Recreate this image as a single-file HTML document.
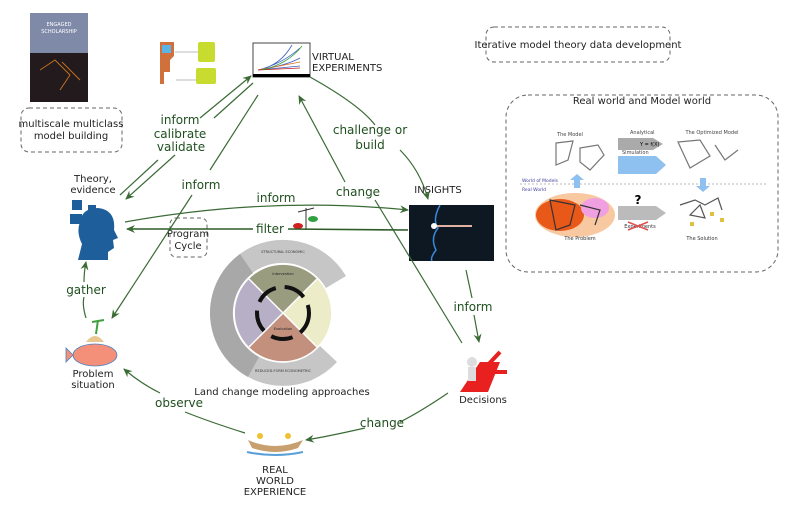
<!DOCTYPE html>
<html><head><meta charset="utf-8"><style>
html,body{margin:0;padding:0;background:#fff;}
svg{display:block;font-family:"DejaVu Sans","Liberation Sans",sans-serif;}
.l{fill:#1f4f1f;font-size:12px;text-anchor:middle;}
.t{fill:#222;font-size:10px;text-anchor:middle;}
.c{fill:none;stroke:#3a6b35;stroke-width:1.2;}
</style></head><body>
<svg width="800" height="513" viewBox="0 0 800 513" xmlns="http://www.w3.org/2000/svg">
<defs>
<marker id="a" markerWidth="10" markerHeight="10" refX="8" refY="5" orient="auto" markerUnits="userSpaceOnUse">
<path d="M0,1 L9,5 L0,9 L3,5 Z" fill="#3a6b35"/></marker>
</defs>
<rect width="800" height="513" fill="#fff"/>

<!-- book -->
<rect x="30" y="13" width="58" height="40" fill="#7f8aa8"/>
<rect x="30" y="53" width="58" height="49" fill="#231a1e"/>
<path d="M40,70 L55,60 L70,75 L60,90 M62,62 L80,80" stroke="#c07020" stroke-width="1" fill="none"/>
<text x="59" y="26" font-size="5" fill="#fff" text-anchor="middle">ENGAGED</text>
<text x="59" y="33" font-size="5" fill="#fff" text-anchor="middle">SCHOLARSHIP</text>
<rect x="21" y="108" width="101" height="44" rx="8" fill="none" stroke="#666" stroke-dasharray="4,3"/>
<text class="t" x="71" y="127" font-size="9">multiscale multiclass</text>
<text class="t" x="71" y="139" font-size="9">model building</text>

<!-- face/head icon -->
<path d="M160,42 h14 v14 l-4,4 v12 h-6 v12 h-4 z" fill="#d0703a"/>
<rect x="162" y="45" width="9" height="8" fill="#5ab4e8"/>
<rect x="198" y="42" width="17" height="20" rx="2" fill="#c8dc30"/>
<rect x="196" y="68" width="20" height="16" rx="2" fill="#c8dc30"/>
<line x1="175" y1="52" x2="198" y2="52" stroke="#bbb"/>
<line x1="176" y1="80" x2="196" y2="80" stroke="#bbb"/>

<!-- virtual experiments chart -->
<rect x="253" y="43" width="57" height="34" fill="#fff" stroke="#444"/>
<rect x="253" y="74" width="57" height="3" fill="#000"/>
<path d="M258,70 Q280,66 292,45 M258,70 Q282,64 300,48 M258,70 Q285,66 300,58 M258,70 L300,66" fill="none" stroke="#4060c0" stroke-width="0.8"/>
<path d="M258,70 Q285,65 300,62" fill="none" stroke="#e07020" stroke-width="0.8"/>
<path d="M258,70 L300,68" fill="none" stroke="#c02020" stroke-width="0.8"/>
<path d="M262,70 Q288,64 302,46" fill="none" stroke="#30a040" stroke-width="0.8"/>
<text x="312" y="60" font-size="10" fill="#222">VIRTUAL</text>
<text x="312" y="71" font-size="10" fill="#222">EXPERIMENTS</text>

<!-- iterative box -->
<rect x="486" y="27" width="184" height="35" rx="8" fill="none" stroke="#666" stroke-dasharray="4,3"/>
<text class="t" x="578" y="48" font-size="9">Iterative model theory data development</text>

<!-- real world box -->
<rect x="506" y="95" width="272" height="177" rx="22" fill="none" stroke="#666" stroke-dasharray="4,3"/>
<text class="t" x="642" y="104" font-size="9">Real world and Model world</text>
<text x="570" y="136" font-size="5" fill="#444" text-anchor="middle">The Model</text>
<path d="M556,143 L573,141 L568,160 L556,165 Z M580,148 L598,145 L604,155 L590,170 L580,162 Z" fill="none" stroke="#777" stroke-width="1.2"/>
<text x="630" y="134" font-size="5" fill="#444">Analytical</text>
<path d="M618,138 h35 l10,6 l-10,6 h-35 z" fill="#aaa"/>
<text x="640" y="146" font-size="5">Y = f(X)</text>
<text x="622" y="154" font-size="5" fill="#444">Simulation</text>
<path d="M618,156 h38 l10,9 l-10,9 h-38 z" fill="#8ec0f0"/>
<text x="712" y="134" font-size="5" fill="#444" text-anchor="middle">The Optimized Model</text>
<path d="M678,142 L700,140 L710,156 L690,168 Z M715,145 L725,160 L738,150" fill="none" stroke="#777" stroke-width="1.2"/>
<line x1="520" y1="184" x2="766" y2="184" stroke="#777" stroke-dasharray="2,2" stroke-width="0.6"/>
<text x="522" y="182" font-size="4.5" fill="#4040a0">World of Models</text>
<text x="522" y="191" font-size="4.5" fill="#4040a0">Real World</text>
<path d="M574,188 h6 v-8 h4 l-7,-6 l-7,6 h4 z" fill="#8ec0f0"/>
<path d="M700,178 h6 v8 h4 l-7,6 l-7,-6 h4 z" fill="#8ec0f0"/>
<ellipse cx="575" cy="215" rx="40" ry="22" fill="#f8c8a0"/>
<ellipse cx="560" cy="215" rx="24" ry="16" fill="#e85818"/>
<ellipse cx="595" cy="208" rx="14" ry="10" fill="#f0a0e0"/>
<path d="M550,200 L575,205 L570,225 L556,230 Z M580,205 L600,210 L595,225" fill="none" stroke="#333" stroke-width="1.2"/>
<text x="580" y="240" font-size="5" fill="#333" text-anchor="middle">The Problem</text>
<text x="638" y="204" font-size="12" font-weight="bold" text-anchor="middle">?</text>
<path d="M618,206 h38 l10,7 l-10,7 h-38 z" fill="#bbb"/>
<text x="640" y="228" font-size="5" fill="#333" text-anchor="middle">Experiments</text>
<path d="M628,222 L648,230 M628,230 L648,222" stroke="#e05050" stroke-width="1.5"/>
<path d="M680,205 L695,200 L705,205 L718,198 L722,210 M690,215 L700,205 L705,218 Z" fill="none" stroke="#555" stroke-width="1.2"/>
<rect x="710" y="212" width="4" height="4" fill="#e0c040"/><rect x="720" y="218" width="4" height="4" fill="#e0c040"/><rect x="690" y="222" width="4" height="4" fill="#e0c040"/>
<text x="702" y="240" font-size="5" fill="#333" text-anchor="middle">The Solution</text>

<!-- insights -->
<text x="438" y="193" font-size="10" fill="#222" text-anchor="middle">INSIGHTS</text>
<rect x="409" y="205" width="85" height="56" fill="#0e1822"/>
<path d="M440,205 Q432,220 438,228 Q430,238 436,250 Q430,258 432,261" fill="none" stroke="#3a88d8" stroke-width="1.5"/>
<line x1="434" y1="226" x2="472" y2="226" stroke="#e0b0a0" stroke-width="2"/>
<circle cx="434" cy="226" r="3" fill="#fff"/>

<!-- theory head -->
<text class="t" x="93" y="182">Theory,</text>
<text class="t" x="93" y="193">evidence</text>
<path d="M80,222 Q82,208 98,208 Q116,210 114,230 L118,238 L113,240 L114,248 L108,252 L108,260 L78,260 L82,244 Q76,232 80,222 Z" fill="#1e5e9a"/>
<path d="M72,200 h10 v10 h-10 z M70,214 h12 v10 h-12 z M88,205 h8 v8 h-8 z" fill="#1e5e9a"/>

<!-- program cycle -->
<rect x="170" y="218" width="37" height="39" rx="6" fill="none" stroke="#666" stroke-dasharray="4,3"/>
<text class="t" x="188" y="237" font-size="9">Program</text>
<text class="t" x="188" y="249" font-size="9">Cycle</text>

<!-- wheel -->
<path d="M337,362 A73,73 0 1 1 346,276 L326,288 A50,50 0 1 0 320,346 Z" fill="#c6c6c6"/>
<path d="M240,254 A73,73 0 0 0 248,377 L259,357 A50,50 0 0 1 253,273 Z" fill="#a8a8a8"/>
<path d="M283,313 L249,279 A48,48 0 0 1 317,279 Z" fill="#9a9c80"/>
<path d="M283,313 L317,279 A48,48 0 0 1 317,347 Z" fill="#edecc8"/>
<path d="M283,313 L317,347 A48,48 0 0 1 249,347 Z" fill="#c4907e"/>
<path d="M283,313 L249,347 A48,48 0 0 1 249,279 Z" fill="#b6afc6"/>
<path d="M249,279 L317,347 M317,279 L249,347" stroke="#fff" stroke-width="1.5"/>
<circle cx="283" cy="313" r="26" fill="none" stroke="#111" stroke-width="4" stroke-dasharray="22,9"/>
<text x="283" y="275" font-size="3.5" fill="#222" text-anchor="middle">Intervention</text>
<text x="283" y="330" font-size="3.5" fill="#222" text-anchor="middle">Evaluation</text>
<text x="283" y="253" font-size="3.5" fill="#333" text-anchor="middle">STRUCTURAL ECONOMIC</text>
<text x="283" y="372" font-size="3.5" fill="#333" text-anchor="middle">REDUCED-FORM ECONOMETRIC</text>
<text class="t" x="282" y="395" font-size="9.5">Land change modeling approaches</text>

<!-- filter scale -->
<line x1="306" y1="208" x2="306" y2="230" stroke="#333"/>
<line x1="298" y1="212" x2="314" y2="208" stroke="#333"/>
<ellipse cx="298" cy="226" rx="5" ry="3" fill="#d02020"/>
<ellipse cx="313" cy="219" rx="5" ry="3" fill="#30a040"/>

<!-- fish island -->
<ellipse cx="95" cy="355" rx="22" ry="11" fill="#f4907a" stroke="#4a80c0" stroke-width="0.8"/>
<path d="M73,355 L66,348 L66,362 Z" fill="#f4907a" stroke="#4a80c0" stroke-width="0.8"/>
<path d="M86,342 Q95,330 104,342 Z" fill="#e8c890"/>
<path d="M96,334 L98,320 M92,322 L104,320" stroke="#40a040" stroke-width="2"/>
<text class="t" x="93" y="377">Problem</text>
<text class="t" x="93" y="388">situation</text>

<!-- decisions -->
<path d="M460,392 L480,362 L500,362 L488,392 Z" fill="#e82020"/>
<path d="M485,368 L500,352 M490,372 L507,372" stroke="#e82020" stroke-width="4"/>
<circle cx="472" cy="362" r="5" fill="#ddd"/>
<rect x="468" y="367" width="8" height="14" fill="#ddd"/>
<text class="t" x="483" y="403">Decisions</text>

<!-- boat -->
<path d="M248,440 Q275,452 303,440 L298,448 Q275,456 252,448 Z" fill="#c8a070"/>
<path d="M247,452 Q275,458 303,452" stroke="#5aa0d8" stroke-width="2" fill="none"/>
<circle cx="260" cy="436" r="3" fill="#f0c030"/><circle cx="288" cy="436" r="3" fill="#f0c030"/>
<text class="t" x="275" y="473">REAL</text>
<text class="t" x="275" y="484">WORLD</text>
<text class="t" x="275" y="495">EXPERIENCE</text>

<!-- connectors -->
<path class="c" d="M200,118 L251,76" marker-end="url(#a)"/>
<path class="c" d="M120,195 L158,160"/>
<path class="c" d="M253,83 L214,118"/>
<path class="c" d="M175,155 L126,199" marker-end="url(#a)"/>
<text class="l" x="180" y="124">inform</text>
<text class="l" x="180" y="138">calibrate</text>
<text class="l" x="181" y="151">validate</text>

<path class="c" d="M258,95 L210,170"/>
<path class="c" d="M192,195 L112,318" marker-end="url(#a)"/>
<text class="l" x="201" y="189">inform</text>

<path class="c" d="M310,77 Q360,105 375,125"/>
<path class="c" d="M400,150 Q420,170 428,199" marker-end="url(#a)"/>
<text class="l" x="370" y="134">challenge or</text>
<text class="l" x="370" y="149">build</text>

<path class="c" d="M462,343 L375,200"/>
<path class="c" d="M345,182 L299,96" marker-end="url(#a)"/>
<text class="l" x="358" y="196">change</text>

<path class="c" d="M125,222 Q270,196 408,210" marker-end="url(#a)"/>
<text class="l" x="276" y="202">inform</text>

<path d="M408,230 L288,229" stroke="#2d5a27" stroke-width="1.6" fill="none"/>
<path d="M253,229 L127,229" stroke="#2d5a27" stroke-width="1.6" fill="none" marker-end="url(#a)"/>
<text class="l" x="270" y="233">filter</text>

<path class="c" d="M466,270 L472,298"/>
<path class="c" d="M474,315 L479,342" marker-end="url(#a)"/>
<text class="l" x="473" y="311">inform</text>

<path class="c" d="M448,393 Q420,412 400,422"/>
<path class="c" d="M365,428 Q330,436 306,440" marker-end="url(#a)"/>
<text class="l" x="382" y="427">change</text>

<path class="c" d="M245,433 Q210,422 185,412"/>
<path class="c" d="M160,393 Q140,383 124,369" marker-end="url(#a)"/>
<text class="l" x="179" y="407">observe</text>

<path class="c" d="M86,318 Q82,305 84,297"/>
<path class="c" d="M84,282 Q84,272 86,262" marker-end="url(#a)"/>
<text class="l" x="86" y="294">gather</text>
</svg>
</body></html>
